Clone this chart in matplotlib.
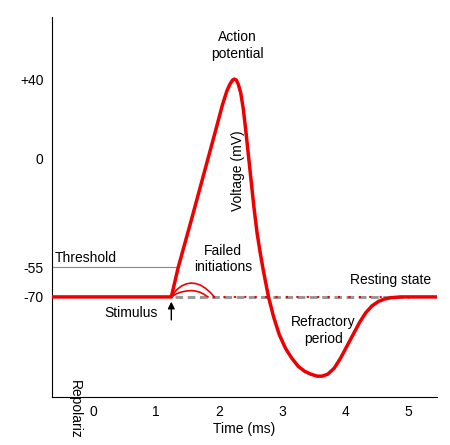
import matplotlib
matplotlib.use("Agg")
import matplotlib.pyplot as plt

plt.rcParams['font.family'] = ['Liberation Sans', 'DejaVu Sans']

# action potential (time ms, voltage mV)
ap_t = [-0.65, 1.24, 1.35, 1.55, 1.78, 1.95, 2.05, 2.12, 2.17, 2.21, 2.24, 2.27, 2.30,
        2.34, 2.38, 2.42, 2.46, 2.5, 2.55, 2.6, 2.65, 2.7, 2.78, 2.86, 2.95, 3.05,
        3.15, 3.25, 3.35, 3.45, 3.55, 3.63, 3.72, 3.82, 3.92, 4.02, 4.12, 4.22,
        4.32, 4.42, 4.52, 4.62, 4.72, 4.87, 5.45]
ap_v = [-70, -70, -55, -32, -5, 15, 27, 34, 37.5, 39.5, 40, 39.5, 37.5,
        33, 25, 14, 2, -10, -25, -38, -48, -57, -70, -80, -89, -96,
        -101, -105, -107.5, -109, -110, -110, -109, -106, -101, -95, -89, -83,
        -78, -74.5, -72.3, -71, -70.4, -70, -70]
fail1_t = [1.24, 1.32, 1.4, 1.48, 1.55, 1.62, 1.7, 1.78, 1.86, 1.92]
fail1_v = [-70, -66.5, -64.5, -63.4, -63, -63.2, -64, -65.6, -67.8, -70]
fail2_t = [1.24, 1.32, 1.4, 1.48, 1.55, 1.62, 1.7, 1.76, 1.82]
fail2_v = [-70, -68.4, -67.5, -67, -66.8, -67, -67.7, -68.7, -70]
xticks = [0, 1, 2, 3, 4, 5]
yticks = [40, 0, -55, -70]
ytick_labels = ["+40", "0", "-55", "-70"]

red = "#ee0000"
fig = plt.figure(figsize=(4.5, 4.45), dpi=100)
ax = fig.add_axes([0.1156, 0.108, 0.8556, 0.854])

ax.plot([1.3, 5.0], [-70, -70], color="#999999", lw=2.2, ls=(0, (2.5, 1.5)), zorder=2)
ax.plot([1.9, 5.0], [-70, -70], color=red, lw=1.5, ls=(0, (1, 4)), zorder=3)
ax.plot([-0.65, 1.35], [-55, -55], color="#888888", lw=0.8)
ax.plot(fail1_t, fail1_v, color=red, lw=1.2)
ax.plot(fail2_t, fail2_v, color=red, lw=1.2)
ax.plot(ap_t, ap_v, color=red, lw=2.5, zorder=4, solid_joinstyle="round")

fs = 10
ax.text(-0.6, -54, "Threshold", fontsize=fs, va="bottom")
ax.text(2.29, 57, "Action\npotential", fontsize=fs, ha="center", va="center")
ax.text(2.3, -6, "Voltage (mV)", fontsize=fs, ha="center", va="center", rotation=90)
ax.text(2.06, -51, "Failed\ninitiations", fontsize=fs, ha="center", va="center")
ax.text(5.35, -65, "Resting state", fontsize=fs, ha="right", va="bottom")
ax.text(1.03, -78, "Stimulus", fontsize=fs, ha="right", va="center")
ax.text(3.65, -87, "Refractory\nperiod", fontsize=fs, ha="center", va="center")
ax.text(-0.28, -112, "Repolariz", fontsize=fs, ha="center", va="top", rotation=-90, clip_on=False)
ax.annotate("", xy=(1.24, -71), xytext=(1.24, -83),
            arrowprops=dict(arrowstyle="-|>", color="black", lw=1, mutation_scale=10))

ax.set_xlim(-0.65, 5.45)
ax.set_ylim(-120.5, 71.4)
ax.set_xticks(xticks)
ax.set_yticks(yticks)
ax.set_yticklabels(ytick_labels)
ax.tick_params(length=0, labelsize=fs, pad=6)
ax.spines["top"].set_visible(False)
ax.spines["right"].set_visible(False)
ax.set_xlabel("Time (ms)", fontsize=fs, labelpad=2)

fig.savefig("out.png")
